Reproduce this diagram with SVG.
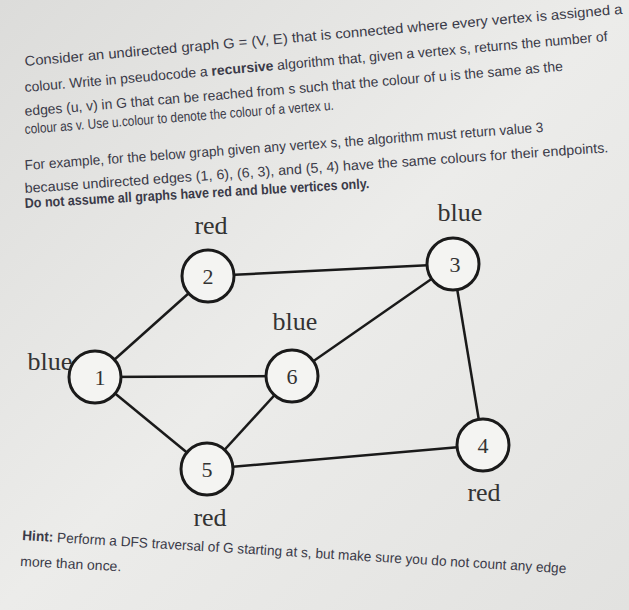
<svg xmlns="http://www.w3.org/2000/svg" width="629" height="610" viewBox="0 0 629 610">
<defs>
<linearGradient id="bg" x1="0" y1="0" x2="1" y2="1">
<stop offset="0" stop-color="#dcdcda"/><stop offset="0.5" stop-color="#ececea"/><stop offset="1" stop-color="#e2e2e0"/>
</linearGradient>
<style>
.t{font-family:"Liberation Sans",Arial,sans-serif;font-size:14px;fill:#3a3a48}
.b{font-weight:bold}
.n{fill:#f4f4f2;stroke:#1a1a1a;stroke-width:3}
.nl{font-family:"Liberation Serif","Times New Roman",serif;font-size:22px;fill:#333;text-anchor:middle}
.lab{font-family:"Liberation Serif","Times New Roman",serif;font-size:26px;fill:#333;text-anchor:middle}
.e{stroke:#1a1a1a;stroke-width:2.5;fill:none}
</style>
</defs>
<rect width="629" height="610" fill="url(#bg)"/>
<g id="text">
<text class="t" x="25" y="66" transform="rotate(-5 25 66)" textLength="600" lengthAdjust="spacingAndGlyphs">Consider an undirected graph G = (V, E) that is connected where every vertex is assigned a</text>
<text class="t" x="25" y="92" transform="rotate(-5 25 92)" textLength="585" lengthAdjust="spacingAndGlyphs">colour. Write in pseudocode a <tspan class="b">recursive</tspan> algorithm that, given a vertex s, returns the number of</text>
<text class="t" x="25" y="116" transform="rotate(-4.8 25 116)" textLength="540" lengthAdjust="spacingAndGlyphs">edges (u, v) in G that can be reached from s such that the colour of u is the same as the</text>
<text class="t" x="25" y="134" transform="rotate(-4.5 25 134)" textLength="310" lengthAdjust="spacingAndGlyphs">colour as v. Use u.colour to denote the colour of a vertex u.</text>
<text class="t" x="25" y="170" transform="rotate(-4.2 25 170)" textLength="520" lengthAdjust="spacingAndGlyphs">For example, for the below graph given any vertex s, the algorithm must return value 3</text>
<text class="t" x="25" y="193" transform="rotate(-4 25 193)" textLength="585" lengthAdjust="spacingAndGlyphs">because undirected edges (1, 6), (6, 3), and (5, 4) have the same colours for their endpoints.</text>
<text class="t b" x="25" y="208" transform="rotate(-3.3 25 208)" textLength="345" lengthAdjust="spacingAndGlyphs">Do not assume all graphs have red and blue vertices only.</text>
<text class="t" x="22" y="540" transform="rotate(3.5 22 540)" textLength="545" lengthAdjust="spacingAndGlyphs"><tspan class="b">Hint:</tspan> Perform a DFS traversal of G starting at s, but make sure you do not count any edge</text>
<text class="t" x="20" y="566" transform="rotate(3 20 566)">more than once.</text>
</g>
<g id="connectors">
<line class="e" x1="95" y1="377" x2="208" y2="276"/>
<line class="e" x1="95" y1="377" x2="292" y2="376"/>
<line class="e" x1="95" y1="377" x2="207" y2="469"/>
<line class="e" x1="208" y1="276" x2="453" y2="264"/>
<line class="e" x1="292" y1="376" x2="453" y2="264"/>
<line class="e" x1="292" y1="376" x2="207" y2="469"/>
<line class="e" x1="453" y1="264" x2="483" y2="445"/>
<line class="e" x1="207" y1="469" x2="483" y2="445"/>
</g>
<g id="n1"><circle class="n" cx="95" cy="377" r="26"/><text class="nl" x="100" y="385">1</text><text class="lab" x="50" y="370">blue</text></g>
<g id="n2"><circle class="n" cx="208" cy="276" r="26"/><text class="nl" x="208" y="284">2</text><text class="lab" x="211" y="234">red</text></g>
<g id="n3"><circle class="n" cx="453" cy="264" r="26"/><text class="nl" x="455" y="272">3</text><text class="lab" x="460" y="221">blue</text></g>
<g id="n6"><circle class="n" cx="292" cy="376" r="26"/><text class="nl" x="292" y="384">6</text><text class="lab" x="295" y="330">blue</text></g>
<g id="n5"><circle class="n" cx="207" cy="469" r="26"/><text class="nl" x="207" y="477">5</text><text class="lab" x="210" y="526">red</text></g>
<g id="n4"><circle class="n" cx="483" cy="445" r="26"/><text class="nl" x="483" y="453">4</text><text class="lab" x="484" y="501">red</text></g>
</svg>
